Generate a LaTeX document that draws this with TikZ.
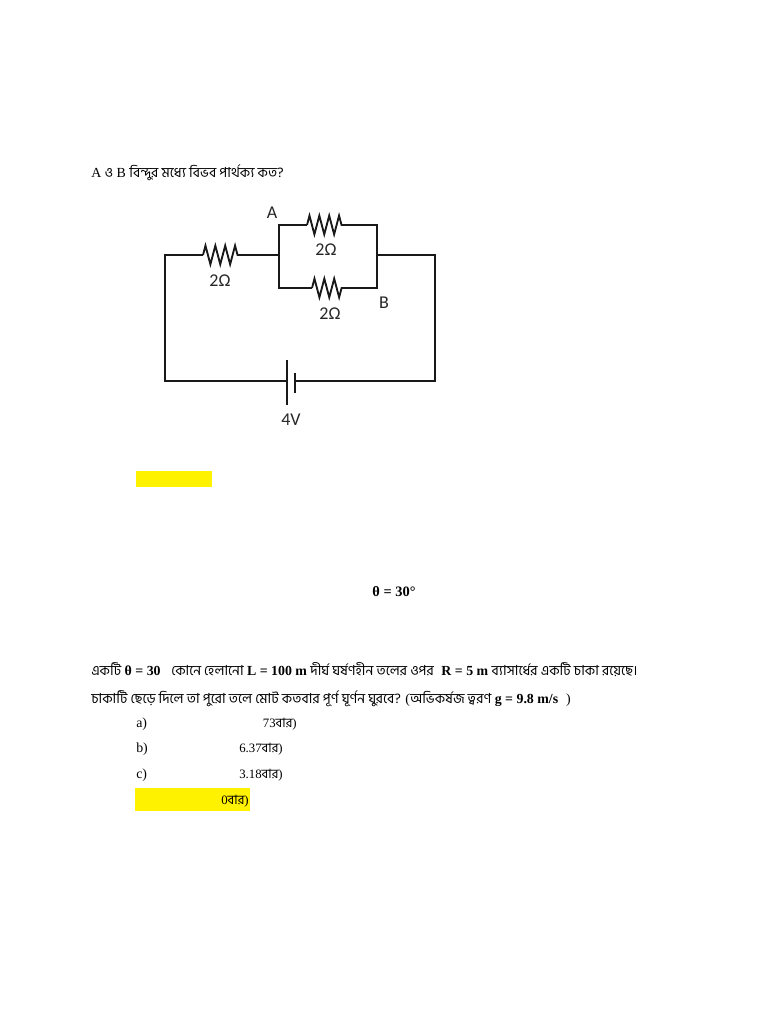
\documentclass[tikz,border=0pt]{standalone}
\usepackage{fontspec}
\setmainfont{Liberation Serif}
\setsansfont{Carlito}
\newfontfamily\bnfont[Script=Bengali]{Hind Siliguri}
\usetikzlibrary{decorations.pathmorphing}
\newcommand{\bn}[1]{{\bnfont #1}}
\newcommand{\bfm}[1]{{\bfseries #1}}
\tikzset{
  wire/.style={line width=1.4pt, black!90},
  res/.style={line width=1.4pt, black!90, decorate, decoration={zigzag, segment length=7.4pt, amplitude=7pt}},
  plate/.style={line width=1.5pt, black!90},
  lbl/.style={font=\sffamily\fontsize{13.5}{15}\selectfont, text=black!85, inner sep=0pt},
  txt/.style={font=\fontsize{9.6}{12}\selectfont, anchor=base west, inner sep=0pt},
  longtxt/.style={font=\fontsize{10.4}{12}\selectfont, anchor=base west, inner sep=0pt},
  hilite/.style={fill=yellow, draw=none}
}
\begin{document}
\begin{tikzpicture}[x=0.75pt, y=-0.75pt]
    \useasboundingbox (0,0) rectangle (768,1024);

    % Question one
    \node[longtxt] (qone) at (91,177) {A \bn{ও} B \bn{বিন্দুর মধ্যে বিভব পার্থক্য কত?}};

    % Corners of the circuit
    \coordinate (tl) at (165,255);
    \coordinate (bl) at (165,381);
    \coordinate (tr) at (435,255);
    \coordinate (br) at (435,381);
    \coordinate (pl) at (279,255);
    \coordinate (pr) at (377,255);
    \coordinate (plt) at (279,225);
    \coordinate (plb) at (279,288);
    \coordinate (prt) at (377,225);
    \coordinate (prb) at (377,288);

    % Resistor ends
    \coordinate (ra) at (203,255);
    \coordinate (rb) at (239,255);
    \coordinate (rc) at (307,225);
    \coordinate (rd) at (342,225);
    \coordinate (re) at (312,288);
    \coordinate (rf) at (346,288);

    % Battery plates
    \coordinate (bata) at (287,360);
    \coordinate (batb) at (287,405);
    \coordinate (batm) at (287,381);
    \coordinate (batc) at (295,373);
    \coordinate (batd) at (295,393);
    \coordinate (bate) at (295,381);

    \draw[wire] (ra) -- (tl) -- (bl) -- (batm);
    \draw[wire] (bate) -- (br) -- (tr) -- (pr);
    \draw[wire] (rb) -- (pl);
    \draw[wire] (rc) -- (plt) -- (plb) -- (re);
    \draw[wire] (rd) -- (prt) -- (prb) -- (rf);
    \draw[res] (ra) -- (rb);
    \draw[res] (rc) -- (rd);
    \draw[res] (re) -- (rf);
    \draw[plate] (bata) -- (batb);
    \draw[plate] (batc) -- (batd);

    % Circuit labels
    \node[lbl] (lbla) at (272,213) {A};
    \node[lbl] (lblb) at (384,303) {B};
    \node[lbl] (lblr) at (220,281) {2Ω};
    \node[lbl] (lbls) at (326,250) {2Ω};
    \node[lbl] (lblt) at (330,314) {2Ω};
    \node[lbl] (lblv) at (291,420) {4V};

    % Highlights
    \fill[hilite] (136,471) rectangle (212,487);
    \fill[hilite] (135,788) rectangle (250,811);

    \node[font=\bfseries\fontsize{10.8}{12}\selectfont, inner sep=0pt] (angle) at (394,592) {θ = 30°};

    % Question two
    \node[longtxt] (qtwoa) at (91,675) {\bn{একটি} \bfm{θ = 30}\hspace{8pt}\bn{কোনে হেলানো} \bfm{L = 100 m} \bn{দীর্ঘ ঘর্ষণহীন তলের ওপর}\hspace{3pt} \bfm{R = 5 m} \bn{ব্যাসার্ধের একটি চাকা রয়েছে।}};
    \node[longtxt] (qtwob) at (91,703) {\bn{চাকাটি ছেড়ে দিলে তা পুরো তলে মোট কতবার পূর্ণ ঘূর্ণন ঘুরবে?} (\bn{অভিকর্ষজ ত্বরণ} \bfm{g = 9.8 m/s}\hspace{6pt})};

    % Options
    \node[longtxt] (opta) at (136,727) {a)};
    \node[longtxt] (optb) at (136,752) {b)};
    \node[longtxt] (optc) at (136,778) {c)};
    \node[txt, anchor=base east] (ansa) at (297,727) {73\bn{বার})};
    \node[txt, anchor=base east] (ansb) at (283,752) {6.37\bn{বার})};
    \node[txt, anchor=base east] (ansc) at (283,778) {3.18\bn{বার})};
    \node[txt, anchor=base east] (ansd) at (249,804) {0\bn{বার})};
\end{tikzpicture}
\end{document}
